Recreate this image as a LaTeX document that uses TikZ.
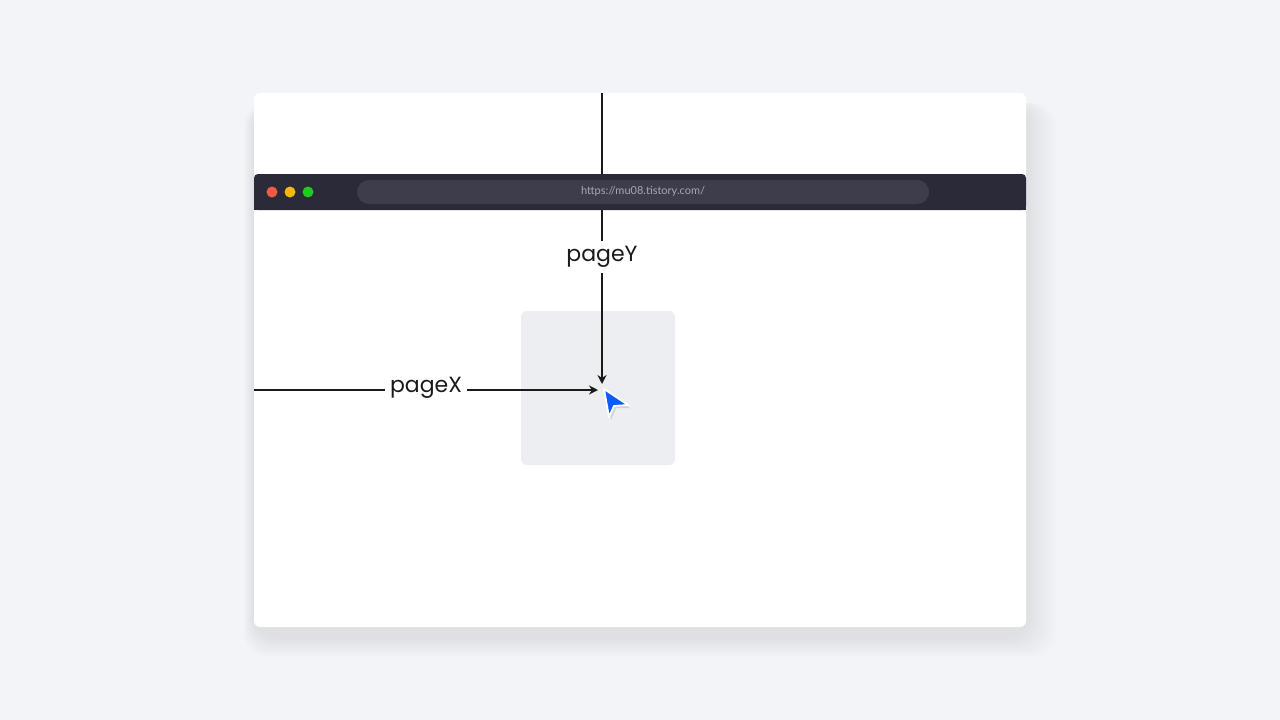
\documentclass[tikz,border=0pt]{standalone}
\usepackage{fontspec}
\setmainfont{Lato}
\newfontfamily\lblfont{Poppins}
\usetikzlibrary{arrows.meta}
\definecolor{bg}{HTML}{F3F4F8}
\definecolor{barc}{HTML}{2A2A38}
\definecolor{pill}{HTML}{3D3D4B}
\definecolor{urlc}{HTML}{A8A8B3}
\definecolor{boxc}{HTML}{EDEEF2}
\definecolor{ink}{HTML}{1A1A1A}
\definecolor{cblue}{HTML}{0A5CFF}
\definecolor{dred}{HTML}{F25A45}
\definecolor{dyel}{HTML}{F5B80C}
\definecolor{dgrn}{HTML}{1ECB1E}
\tikzset{
  conn/.style={draw=ink, line width=2pt, -{Stealth[length=9pt,width=9pt]}},
  lbl/.style={fill=white, text=ink, font=\lblfont\fontsize{22}{22}\selectfont, inner sep=5pt},
}
\begin{document}
\begin{tikzpicture}[x=1pt,y=-1pt]
\useasboundingbox (0,0) rectangle (1280,720);
\fill[bg] (0,0) rectangle (1280,720);
% shadow
\foreach \i in {1,...,10}{
  \fill[black, opacity=0.006, rounded corners=24pt] (254-\i,93+10) rectangle (1026+3*\i,627+2*\i+10);
}
\fill[white, rounded corners=6pt] (254,93) rectangle (1026,627);
% grey box
\fill[boxc, rounded corners=6pt] (521,311) rectangle (675,465);
% connectors
\coordinate (ytop) at (602,93);
\coordinate (ytip) at (602,384);
\coordinate (xleft) at (254,390);
\coordinate (xtip) at (598,390);
\draw[conn] (ytop) -- (ytip);
\draw[conn] (xleft) -- (xtip);
\node[lbl] (py) at (602,257) {pageY};
\node[lbl] (px) at (426,388) {pageX};
% bar
\fill[barc, rounded corners=4pt] (254,174) rectangle (1026,210);
\fill[barc] (254,190) rectangle (1026,210);
\fill[dred] (272,192) circle (5.5);
\fill[dyel] (290,192) circle (5.5);
\fill[dgrn] (308,192) circle (5.5);
\fill[pill, rounded corners=12pt] (357,180) rectangle (929,204);
\node[text=urlc, font=\fontsize{11}{11}\selectfont] (url) at (643,191) {https://mu08.tistory.com/};
% cursor
\fill[black,opacity=0.12] (606,392) -- (630,408) -- (616,408) -- (611,420) -- cycle;
\filldraw[fill=cblue, draw=white, line width=1.8pt, line join=round]
  (604,389) -- (628,405) -- (614,406) -- (609,417) -- cycle;
\end{tikzpicture}
\end{document}
